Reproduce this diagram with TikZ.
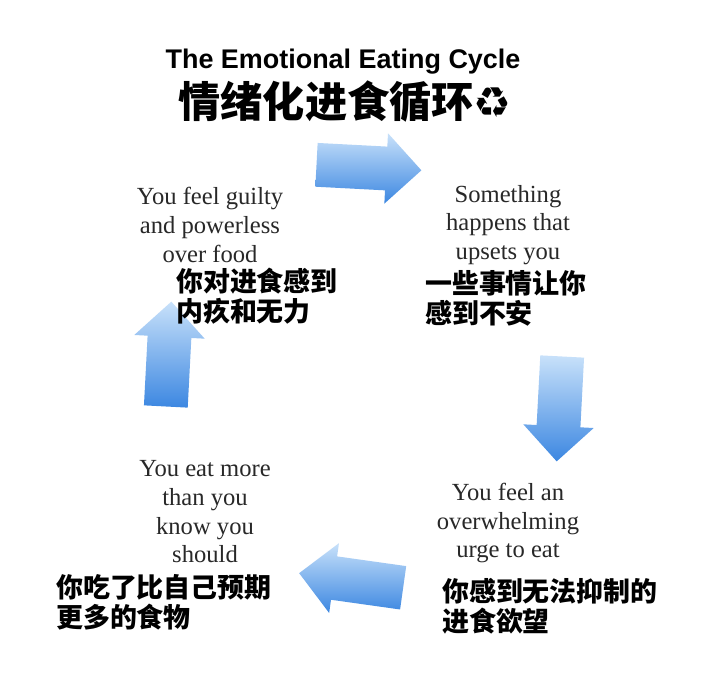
\documentclass[tikz,border=0pt]{standalone}
\usepackage{fontspec}
\setmainfont{Liberation Serif}
\newfontfamily\titlefont{Liberation Sans}
\newfontfamily\cjk{Noto Sans CJK SC}
\newfontfamily\symfont{DejaVu Sans}
\usetikzlibrary{shapes.arrows}
\definecolor{arrowlight}{RGB}{200, 225, 250}
\definecolor{arrowdark}{RGB}{60, 135, 225}
\definecolor{engtext}{RGB}{40, 40, 40}

\tikzset{
    cyclearrow/.style={single arrow, draw=none, minimum height=105*0.03cm,
        single arrow head extend=0.4cm, inner sep=0.65cm,
        top color=arrowlight, bottom color=arrowdark},
    engnote/.style={align=center, text=engtext, font=\fontsize{21}{24.5}\selectfont},
    cjknote/.style={align=left, anchor=west, font=\cjk\bfseries\fontsize{23}{25.5}\selectfont}
}

\begin{document}
\begin{tikzpicture}[x=0.03cm, y=-0.03cm]
    \useasboundingbox (0,0) rectangle (720,680);
    \fill[white] (0,0) rectangle (720,680);

    % Title
    \node (title) at (343,62) {\titlefont\bfseries\fontsize{23}{26}\selectfont The Emotional Eating Cycle};
    \node (titlecn) at (345,102) {\cjk\bfseries\fontsize{36}{40}\selectfont 情绪化进食循环{\symfont\bfseries ♻}};

    % Arrows
    \node[cyclearrow, rotate=-3] (arrowtop) at (358,167) {};
    \node[cyclearrow, rotate=-93] (arrowright) at (560,398) {};
    \node[cyclearrow, rotate=172] (arrowbottom) at (362,582) {};
    \node[cyclearrow, rotate=87] (arrowleft) at (168,365) {};

    % Stages
    \node[engnote] (upsetEN) at (508,225) {Something\\happens that\\upsets you};
    \node[cjknote] (upsetCN) at (421,298) {一些事情让你\\感到不安};
    \node[engnote] (urgeEN) at (508,523) {You feel an\\overwhelming\\urge to eat};
    \node[cjknote] (urgeCN) at (438,606) {你感到无法抑制的\\进食欲望};
    \node[engnote] (eatEN) at (205,512) {You eat more\\than you\\know you\\should};
    \node[cjknote] (eatCN) at (52,602) {你吃了比自己预期\\更多的食物};
    \node[engnote] (guiltyEN) at (210,225) {You feel guilty\\and powerless\\over food};
    \node[cjknote] (guiltyCN) at (172,296) {你对进食感到\\内疚和无力};
\end{tikzpicture}
\end{document}
